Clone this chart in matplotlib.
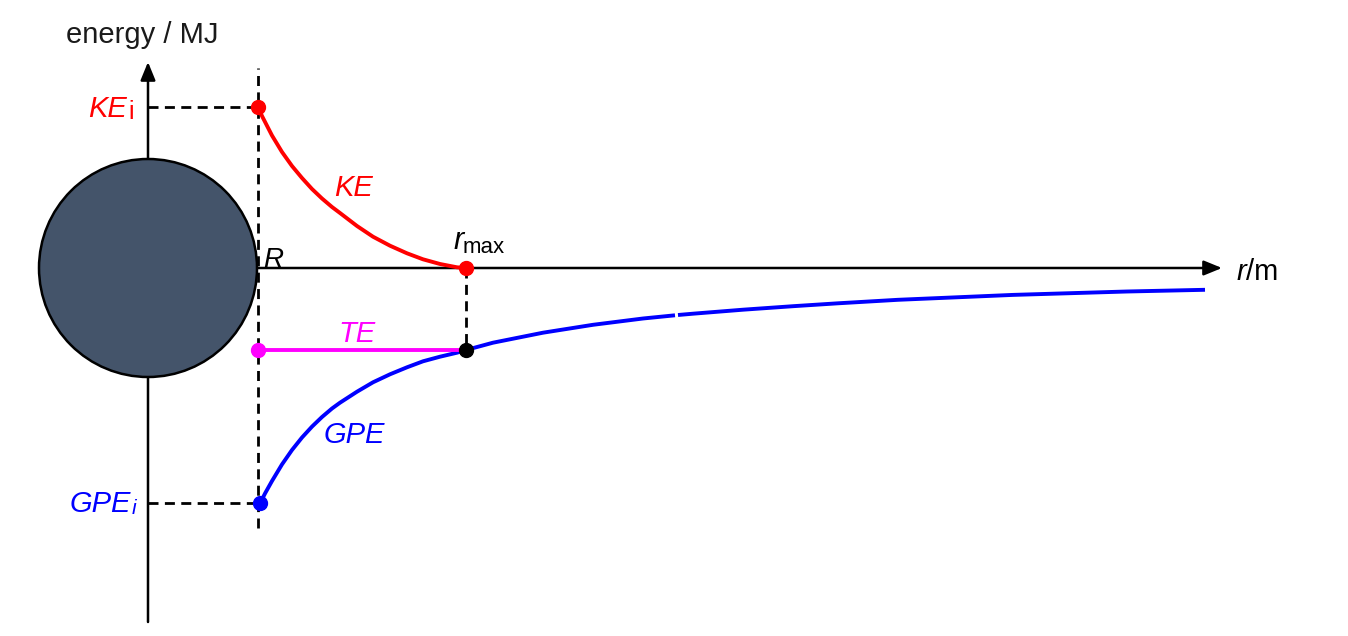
import matplotlib
matplotlib.use("Agg")
import matplotlib.pyplot as plt
from matplotlib.patches import Circle

plt.rcParams['font.family'] = ['Liberation Sans', 'DejaVu Sans']

# ---- data (schematic units, origin at planet centre) ----
R = 110.0          # planet radius / launch radius
r_max = 318.0      # maximum height reached
KE_i = 161.0       # initial kinetic energy
TE = -82.0         # total energy
GPE_i = -235.0     # initial potential energy
planet_radius = 109.0

ke_r = [110, 114, 124, 134, 144, 154, 164, 174, 184, 192, 209, 225, 242, 259, 275, 292, 309, 318]
ke_E = [161, 152, 132.5, 116, 102, 90, 79, 69.5, 61, 55, 42, 31.3, 22.3, 14.7, 8.7, 4, 0.7, 0]

gpe_r_near = [112, 117, 124, 134, 144, 154, 164, 174, 184, 192, 209, 225, 242, 259, 275, 292,
              309, 318, 345, 395, 445, 495, 527]
gpe_E_near = [-235.5, -225.5, -213, -196.4, -182, -169.5, -158.6, -149, -140.5, -134.7, -123.7,
              -114.3, -106.3, -99.3, -93.3, -88.7, -84.7, -82, -74.7, -64.7, -56.8, -50.5, -47.3]
gpe_r_far = [530, 545, 595, 645, 690, 750, 865, 979, 1057]
gpe_E_far = [-47.0, -45.7, -41.7, -38.2, -35.3, -31.8, -26.9, -23.5, -21.8]

W, H = 1348, 636
fig = plt.figure(figsize=(W / 100, H / 100), dpi=100)
ax = fig.add_axes([0, 0, 1, 1])
ax.set_xlim(-148, 1200)
ax.set_ylim(-368, 268)
ax.axis('off')

red = '#FF0000'
blue = '#0000FF'
mag = '#FF00FF'

# axes arrows
arrow = dict(arrowstyle='-|>,head_length=1.1,head_width=0.45',
             lw=1.8, color='black', shrinkA=0, shrinkB=0)
ax.annotate('', xy=(0, 206), xytext=(0, -354), arrowprops=arrow, zorder=2)
ax.annotate('', xy=(1074, 0), xytext=(0, 0), arrowprops=arrow, zorder=2)

# planet
ax.add_patch(Circle((0, 0), planet_radius, facecolor='#44546A', edgecolor='black',
                    lw=1.8, zorder=3))

# dashed guides
dash = dict(color='black', lw=2.0, dashes=(3.6, 2.3), zorder=4)
ax.plot([R, R], [-260, 200], **dash)
ax.plot([0, R], [KE_i, KE_i], **dash)
ax.plot([0, R], [GPE_i, GPE_i], **dash)
ax.plot([r_max, r_max], [0, TE], **dash)

# curves
lw = 2.8
ax.plot(ke_r, ke_E, color=red, lw=lw, zorder=5, solid_capstyle='butt', solid_joinstyle='round')
ax.plot(gpe_r_near, gpe_E_near, color=blue, lw=lw, zorder=5, solid_capstyle='butt',
        solid_joinstyle='round')
ax.plot(gpe_r_far, gpe_E_far, color=blue, lw=lw, zorder=5, solid_capstyle='butt',
        solid_joinstyle='round')
ax.plot([R, r_max], [TE, TE], color=mag, lw=lw, zorder=5)

# points
ms = 10
ax.plot([R], [KE_i], 'o', color=red, ms=ms, zorder=6)
ax.plot([r_max], [0], 'o', color=red, ms=ms, zorder=6)
ax.plot([R], [TE], 'o', color=mag, ms=ms, zorder=6)
ax.plot([r_max], [TE], 'o', color='black', ms=ms, zorder=6)
ax.plot([R + 2], [GPE_i], 'o', color=blue, ms=ms, zorder=6)

# texts
fs = 21
ax.text(-82, 225, 'energy / MJ', fontsize=21, color='#1a1a1a', ha='left', va='baseline')
ax.text(-21, 151, 'KE', fontsize=fs, color=red, style='italic', ha='right', va='baseline')
ax.text(-20, 149, 'i', fontsize=18, color=red, ha='left', va='baseline')
ax.text(186, 72, 'KE', fontsize=fs, color=red, style='italic', ha='left', va='baseline')
ax.text(115, 1, 'R', fontsize=20, color='black', style='italic', ha='left', va='baseline')
ax.text(305, 19, 'r', fontsize=22, color='black', style='italic', ha='left', va='baseline')
ax.text(315, 15, 'max', fontsize=16, color='black', ha='left', va='baseline')
ax.text(1089, -12, 'r', fontsize=21, color='black', style='italic', ha='left', va='baseline')
ax.text(1098, -12, '/m', fontsize=21, color='black', ha='left', va='baseline')
ax.text(190, -74, 'TE', fontsize=fs, color=mag, style='italic', ha='left', va='baseline')
ax.text(176, -175, 'GPE', fontsize=fs, color=blue, style='italic', ha='left', va='baseline')
ax.text(-17, -244, 'GPE', fontsize=fs, color=blue, style='italic', ha='right', va='baseline')
ax.text(-16, -246, 'i', fontsize=15, color=blue, style='italic', ha='left', va='baseline')

fig.savefig('out.png', dpi=100)
